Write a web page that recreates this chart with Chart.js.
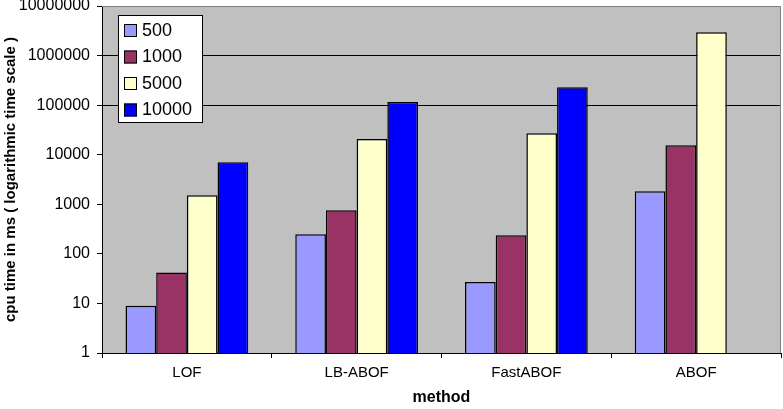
<!DOCTYPE html>
<html>
<head>
<meta charset="utf-8">
<script src="https://cdn.jsdelivr.net/npm/chart.js@4/dist/chart.umd.min.js"></script>
<style>
  html, body { margin: 0; padding: 0; background: #fff; }
  #wrap { width: 783px; height: 409px; }
</style>
</head>
<body>
<div id="wrap"><canvas id="cpuChart"></canvas></div>
<script>
const methods = ['LOF', 'LB-ABOF', 'FastABOF', 'ABOF'];
const sizes = ['500', '1000', '5000', '10000'];
const time500 = [9, 248, 27, 1830];
const time1000 = [42, 757, 237, 15500];
const time5000 = [1520, 20700, 27000, 2950000];
const time10000 = [7030, 115700, 229000, null];
const yTicks = [1, 10, 100, 1000, 10000, 100000, 1000000, 10000000];

const colors = ['#9999ff', '#993366', '#ffffcc', '#0000ff'];
const series = [time500, time1000, time5000, time10000];

// grey plot area + thin frame on top/right
const plotBg = {
    id: 'plotBg',
    beforeDraw(chart) {
        const a = chart.chartArea, c = chart.ctx;
        c.save();
        c.fillStyle = '#c0c0c0';
        c.fillRect(a.left, a.top, a.right - a.left, a.bottom - a.top);
        c.restore();
    },
    afterDraw(chart) {
        const a = chart.chartArea, c = chart.ctx;
        c.save();
        c.strokeStyle = '#808080';
        c.lineWidth = 1;
        c.beginPath();
        c.moveTo(a.left, a.top + 0.5);
        c.lineTo(a.right - 0.5, a.top + 0.5);
        c.lineTo(a.right - 0.5, a.bottom);
        c.stroke();
        c.restore();
    }
};

// boxed legend sitting inside the plot, top left
const boxLegend = {
    id: 'boxLegend',
    afterDraw(chart) {
        const c = chart.ctx;
        const x = 118, y = 15, w = 84, h = 107;
        c.save();
        c.fillStyle = '#fff';
        c.fillRect(x, y, w, h);
        c.strokeStyle = '#000';
        c.lineWidth = 1;
        c.strokeRect(x + 0.5, y + 0.5, w, h);
        c.font = '18px "Liberation Sans", Arial, sans-serif';
        c.textBaseline = 'middle';
        chart.data.datasets.forEach((ds, i) => {
            const cy = 30 + i * 26.5;
            c.fillStyle = ds.backgroundColor;
            c.fillRect(x + 6, cy - 6, 13, 13);
            c.strokeStyle = '#000';
            c.strokeRect(x + 6.5, cy - 5.5, 12, 12);
            c.fillStyle = '#000';
            c.fillText(ds.label, x + 24, cy + 1);
        });
        c.restore();
    }
};

new Chart(document.getElementById('cpuChart'), {
    type: 'bar',
    data: {
        labels: methods,
        datasets: sizes.map((s, i) => ({
            label: s,
            data: series[i],
            backgroundColor: colors[i],
            borderColor: '#000',
            borderWidth: 1.5,
            borderSkipped: 'bottom',
            barPercentage: 1,
            categoryPercentage: 0.723
        }))
    },
    options: {
        responsive: true,
        maintainAspectRatio: false,
        animation: false,
        layout: { padding: { top: 6, right: 2, left: 0, bottom: 0 } },
        plugins: {
            legend: { display: false },
            tooltip: { enabled: false }
        },
        scales: {
            x: {
                afterFit(scale) { scale.height = 56; },
                grid: {
                    offset: true,
                    drawOnChartArea: false,
                    tickColor: '#000',
                    tickLength: 5
                },
                border: { color: '#000', width: 1 },
                ticks: {
                    color: '#000',
                    padding: 6,
                    font: { family: '"Liberation Sans", Arial, sans-serif', size: 15 }
                },
                title: {
                    display: true,
                    text: 'method',
                    color: '#000',
                    padding: { top: 4, bottom: 2 },
                    font: { family: '"Liberation Sans", Arial, sans-serif', size: 16, weight: 'bold' }
                }
            },
            y: {
                type: 'logarithmic',
                min: 1,
                max: 10000000,
                afterFit(scale) {
                    scale.width = 102;
                    scale.paddingTop = 0;
                    scale.paddingBottom = 0;
                },
                afterBuildTicks(scale) {
                    scale.ticks = yTicks.map(v => ({ value: v }));
                },
                grid: {
                    color: ctx => (ctx.tick && (ctx.tick.value === 100000 || ctx.tick.value === 1000000)) ? '#000' : 'rgba(0,0,0,0)',
                    tickColor: '#000',
                    tickLength: 5,
                    lineWidth: 1
                },
                border: { color: '#000', width: 1 },
                ticks: {
                    color: '#000',
                    padding: 7,
                    font: { family: '"Liberation Sans", Arial, sans-serif', size: 16 },
                    callback: v => String(v)
                },
                title: {
                    display: true,
                    text: 'cpu time in ms ( logarithmic time scale )',
                    color: '#000',
                    padding: { top: 2, bottom: 0 },
                    font: { family: '"Liberation Sans", Arial, sans-serif', size: 15, weight: 'bold' }
                }
            }
        }
    },
    plugins: [plotBg, boxLegend]
});
</script>
</body>
</html>
